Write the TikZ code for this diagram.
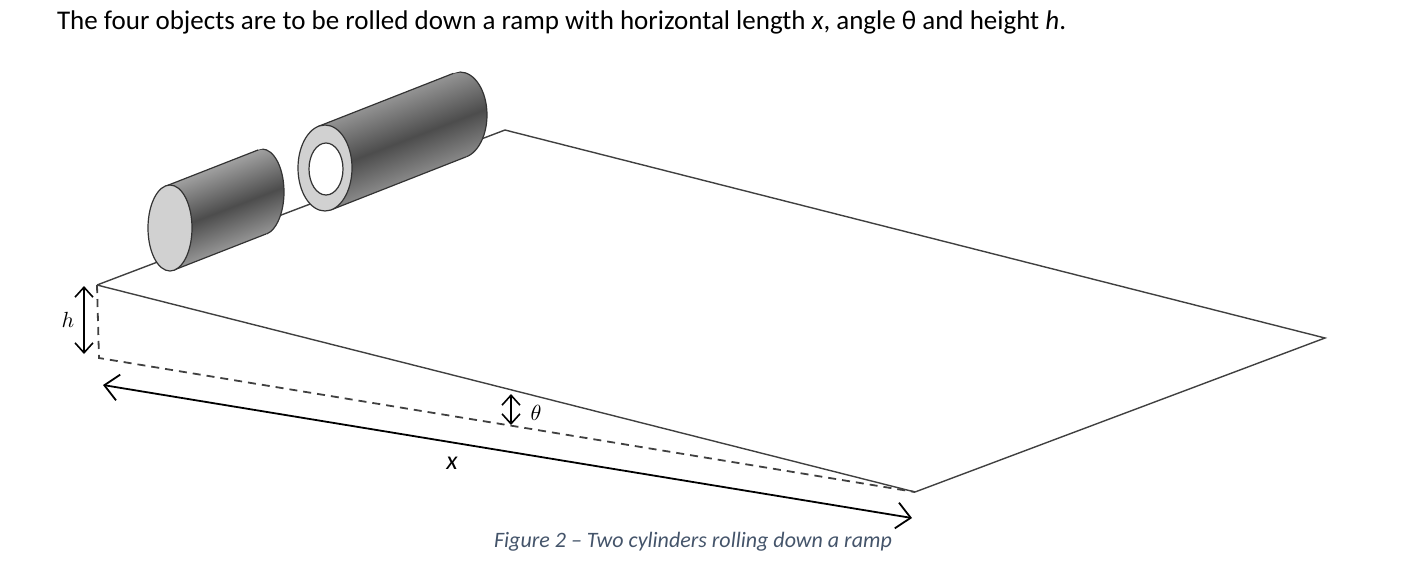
\documentclass[tikz,border=0pt]{standalone}
\usepackage{fontspec}
\setmainfont{Carlito}
\usetikzlibrary{arrows.meta,calc}
\definecolor{capblue}{RGB}{68,84,106}
\tikzset{
  edge/.style={draw=black!75,line width=0.7pt},
  dashln/.style={draw=black!75,line width=0.9pt,dash pattern=on 4pt off 3pt},
  dim/.style={line width=0.8pt,{Straight Barb[length=5pt,width=9pt]}-{Straight Barb[length=5pt,width=9pt]}},
  bigdim/.style={line width=0.9pt,{Straight Barb[length=7pt,width=13pt]}-{Straight Barb[length=7pt,width=13pt]}},
  body/.style={top color=black!25,bottom color=black!25,middle color=black!70,shading angle=21},
  cylo/.style={draw=black!80,line width=0.6pt}
}
\begin{document}
\begin{tikzpicture}[x=0.5pt,y=-0.5pt]
\useasboundingbox (0,0) rectangle (1403,575);
\node[anchor=west,font=\fontsize{13.5}{15}\selectfont] (title) at (50,22) {The four objects are to be rolled down a ramp with horizontal length \textit{x}, angle θ and height \textit{h}.};
% ramp
\coordinate (A) at (97,285);
\coordinate (T) at (505,130);
\coordinate (R) at (1325,338);
\coordinate (F) at (915,492);
\coordinate (D) at (99,358);
\draw[edge] (A) -- (T) -- (R) -- (F) -- (A);
\draw[dashln] (A) -- (D) -- (F);
% h
\coordinate (h1) at (84,286);
\coordinate (h2) at (84,354);
\draw[dim] (h1) -- (h2);
\node (hl) at (68,320) {\fontsize{11}{12}\selectfont$h$};
% theta
\coordinate (t1) at (511,394);
\coordinate (t2) at (511,425);
\draw[dim] (t1) -- (t2);
\node (tl) at (536,413) {\fontsize{11}{12}\selectfont$\theta$};
% x
\coordinate (x1) at (103,385);
\coordinate (x2) at (912,518);
\draw[bigdim] (x1) -- (x2);
\node (xl) at (452,463) {\fontsize{13}{14}\selectfont\textit{x}};
% small cylinder
\coordinate (sf) at (170,228);
\coordinate (sb) at (262,192);
\shade[body] ($(sf)+(-4,-42)$) -- ($(sb)+(-4,-42)$) -- ($(sb)+(4,42)$) -- ($(sf)+(4,42)$) -- cycle (sb) ellipse [x radius=22,y radius=43];
\draw[cylo] ($(sf)+(-4,-42)$) -- ($(sb)+(-4,-42)$) ($(sf)+(4,42)$) -- ($(sb)+(4,42)$);
\begin{scope}
\clip ($(sb)+(-4,-42)$) -- ($(sb)+(4,42)$) -- ($(sb)+(60,60)$) -- ($(sb)+(60,-60)$) -- cycle;
\draw[cylo] (sb) ellipse [x radius=22,y radius=43];
\end{scope}
\draw[cylo,fill=black!18] (sf) ellipse [x radius=22,y radius=43];
% large hollow cylinder
\coordinate (lf) at (325,168);
\coordinate (lb) at (460,115);
\shade[body] ($(lf)+(-6.5,-41.7)$) -- ($(lb)+(-6.5,-41.7)$) -- ($(lb)+(6.5,41.7)$) -- ($(lf)+(6.5,41.7)$) -- cycle (lb) ellipse [x radius=27,y radius=43];
\draw[cylo] ($(lf)+(-6.5,-41.7)$) -- ($(lb)+(-6.5,-41.7)$) ($(lf)+(6.5,41.7)$) -- ($(lb)+(6.5,41.7)$);
\begin{scope}
\clip ($(lb)+(-6.5,-41.7)$) -- ($(lb)+(6.5,41.7)$) -- ($(lb)+(60,60)$) -- ($(lb)+(60,-60)$) -- cycle;
\draw[cylo] (lb) ellipse [x radius=27,y radius=43];
\end{scope}
\draw[cylo,fill=black!18] (lf) ellipse [x radius=27,y radius=43];
\draw[cylo,fill=white] (326,169) ellipse [x radius=17,y radius=26];
% caption
\node[font=\fontsize{11}{12}\selectfont\itshape,text=capblue] (cap) at (693,542) {Figure 2 – Two cylinders rolling down a ramp};
\end{tikzpicture}
\end{document}
